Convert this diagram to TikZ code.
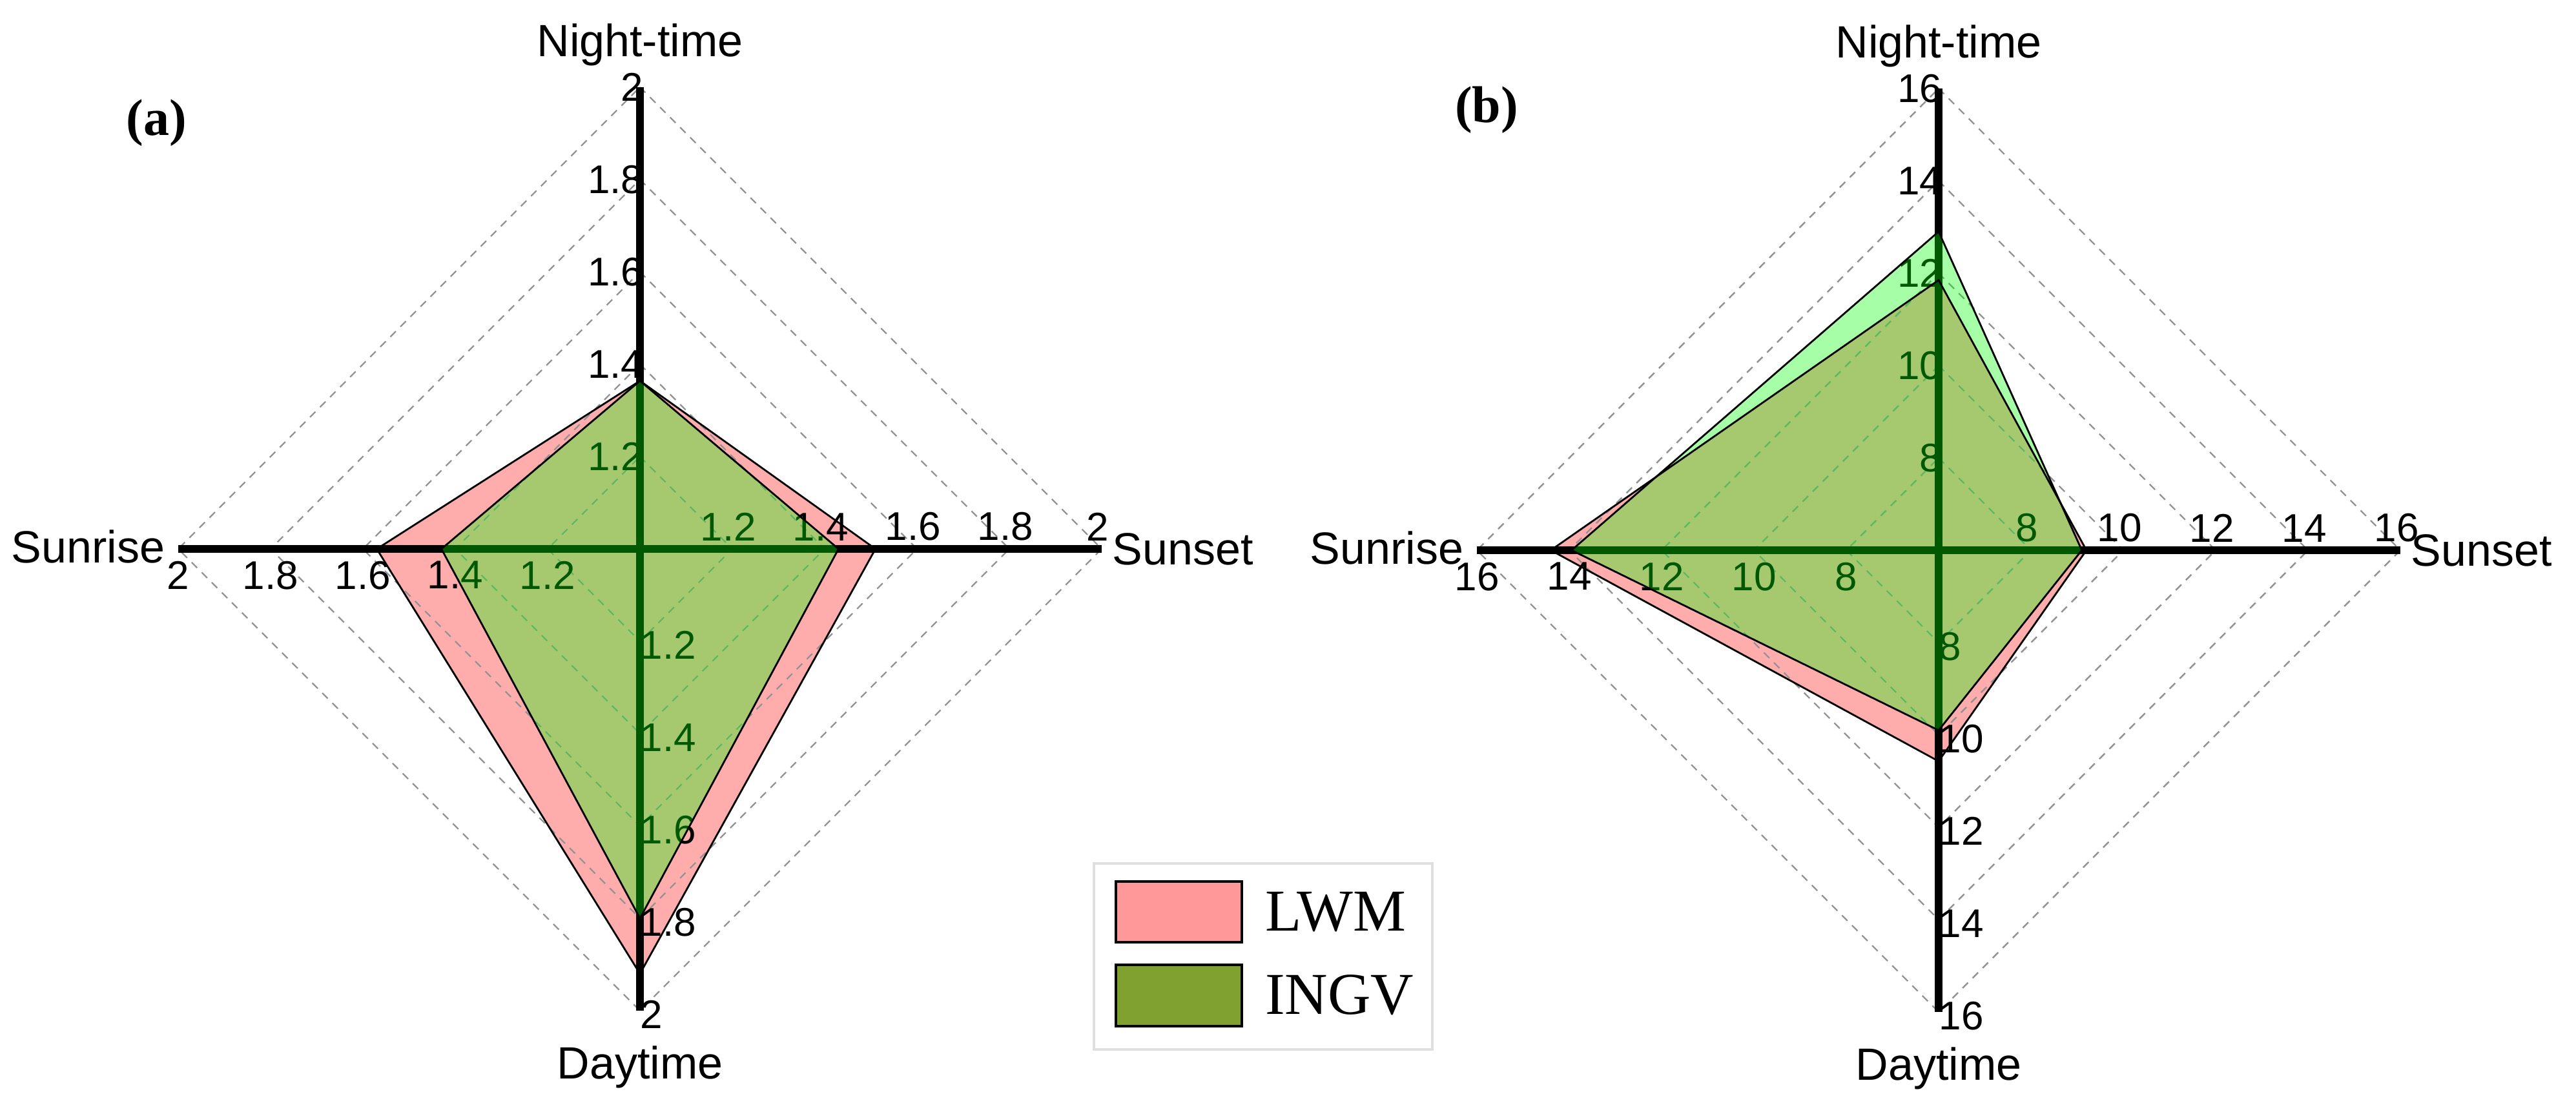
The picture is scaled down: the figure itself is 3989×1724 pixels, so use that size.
\documentclass[tikz,border=0pt]{standalone}
\usepackage{fontspec}
\setmainfont{Liberation Sans}
\newfontfamily\tnr{Liberation Serif}
\definecolor{lwm}{RGB}{255,172,172}
\definecolor{ingv}{RGB}{0,255,0}
\definecolor{lwmleg}{RGB}{255,153,153}
\definecolor{ingvleg}{RGB}{128,160,48}
\tikzset{
 ring/.style={draw=gray!85,dashed,line width=0.6pt,dash pattern=on 3pt off 2.5pt},
 axisline/.style={line width=3pt,black},
 outl/.style={draw=black,line width=0.7pt,line join=miter},
 ticklab/.style={font=\fontsize{15.5}{17}\selectfont,inner sep=1pt},
 axname/.style={font=\fontsize{17.5}{20}\selectfont,inner sep=1pt},
 lwmfill/.style={fill=lwm},
 ingvfill/.style={fill=ingv,fill opacity=0.35},
}
\newcommand\radarchart[6]{%
 \begin{scope}[shift={(#1,#2)}]
  \def\R{715}
  \foreach \n/\e/\s/\w in {#4} {\fill[lwmfill] (0,-\R*\n) -- (\R*\e,0) -- (0,\R*\s) -- (-\R*\w,0) -- cycle;}
  \foreach \f in {0.2,0.4,0.6,0.8,1} {\draw[ring] (0,-\R*\f) -- (\R*\f,0) -- (0,\R*\f) -- (-\R*\f,0) -- cycle;}
  \coordinate (#6N) at (0,-\R); \coordinate (#6S) at (0,\R);
  \coordinate (#6E) at (\R,0); \coordinate (#6W) at (-\R,0);
  \draw[axisline] (#6N) -- (#6S);
  \draw[axisline] (#6W) -- (#6E);
  \foreach \f/\t in {#3} {
   \node[ticklab,anchor=east] (#6tn\t) at (10,-\R*\f) {\t};
   \node[ticklab,anchor=south] (#6te\t) at (\R*\f-6,-8) {\t};
   \node[ticklab,anchor=west] (#6ts\t) at (-4,\R*\f+6) {\t};
   \node[ticklab,anchor=north] (#6tw\t) at (-\R*\f,14) {\t};
  }
  \foreach \n/\e/\s/\w in {#5} {\fill[ingvfill] (0,-\R*\n) -- (\R*\e,0) -- (0,\R*\s) -- (-\R*\w,0) -- cycle;}
  \foreach \n/\e/\s/\w in {#4} {\draw[outl] (0,-\R*\n) -- (\R*\e,0) -- (0,\R*\s) -- (-\R*\w,0) -- cycle;}
  \foreach \n/\e/\s/\w in {#5} {\draw[outl] (0,-\R*\n) -- (\R*\e,0) -- (0,\R*\s) -- (-\R*\w,0) -- cycle;}
  \node[axname,anchor=south] (#6nn) at (0,-\R-28) {Night-time};
  \node[axname,anchor=north] (#6ns) at (0,\R+50) {Daytime};
  \node[axname,anchor=west] (#6ne) at (\R+12,0) {Sunset};
  \node[axname,anchor=east] (#6nw) at (-\R-16,-4) {Sunrise};
 \end{scope}}
\begin{document}
\begin{tikzpicture}[x=0.25pt,y=-0.25pt]
\useasboundingbox (0,0) rectangle (3989,1724);
\fill[white] (0,0) rectangle (3989,1724);
\radarchart{991}{850}{0.2/1.2,0.4/1.4,0.6/1.6,0.8/1.8,1/2}{0.364/0.51/0.92/0.57}{0.364/0.43/0.80/0.43}{a}
\radarchart{3002}{852}{0.2/8,0.4/10,0.6/12,0.8/14,1/16}{0.585/0.32/0.457/0.84}{0.69/0.31/0.39/0.795}{b}
\node[font=\tnr\bfseries\fontsize{20}{22}\selectfont] (labA) at (242,190) {(a)};
\node[font=\tnr\bfseries\fontsize{20}{22}\selectfont] (labB) at (2302,170) {(b)};
% legend
\draw[draw=gray!25,line width=1pt,fill=white] (1694,1337) rectangle (2218,1625);
\draw[line width=0.9pt,fill=lwmleg] (1728,1365) rectangle (1923,1459);
\draw[line width=0.9pt,fill=ingvleg] (1728,1494) rectangle (1923,1589);
\node[font=\tnr\fontsize{23}{25}\selectfont,anchor=west] (legL) at (1945,1412) {LWM};
\node[font=\tnr\fontsize{23}{25}\selectfont,anchor=west] (legI) at (1945,1541) {INGV};
\end{tikzpicture}
\end{document}
